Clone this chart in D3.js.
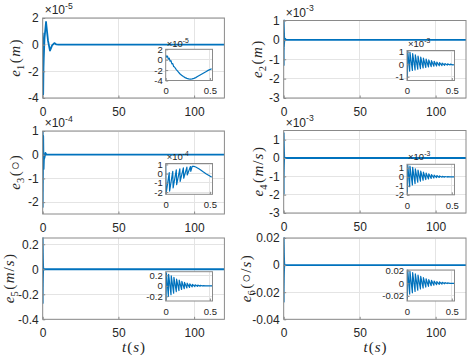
<!DOCTYPE html>
<html><head><meta charset="utf-8">
<script src="https://cdn.jsdelivr.net/npm/d3@7"></script>
<style>body{margin:0;background:#fff}svg{display:block}</style>
</head><body>
<svg id="c" width="474" height="355"></svg>
<script>
// ---------------- DATA ----------------
const timeTicks = [0, 50, 100];
const insetTimeTicks = [0, 0.5];

// e1 (x1e-5)
const e1Ticks = [-4, -2, 0, 2];
const e1InsetTicks = [-4, -2, 0, 2];
const e1Early = [[0,0.9],[0.01,0.5],[0.02,0.7],[0.03,0.1],[0.04,0.3],[0.05,-0.3],[0.06,-0.2],[0.07,-0.8],[0.08,-0.75],[0.09,-1.3],[0.1,-1.4],[0.12,-1.9],[0.14,-2.3],[0.16,-2.7],[0.18,-3.0],[0.2,-3.25],[0.22,-3.45],[0.24,-3.6],[0.26,-3.7],[0.28,-3.75],[0.3,-3.7],[0.32,-3.6],[0.34,-3.45],[0.36,-3.25],[0.38,-3.05],[0.4,-2.85],[0.42,-2.65],[0.44,-2.45],[0.46,-2.25],[0.48,-2.05],[0.5,-1.9],[0.52,-1.75]];
const e1Late = [[0.7,-1.0],[1.2,0.5],[2.2,1.7],[3.5,0.3],[4.8,-0.45],[6.2,-0.05],[7.7,0.12],[9,0.02],[10.5,0],[120,0]];

// e2 (x1e-3)
const e2Ticks = [-3, -2, -1, 0, 1];
const e2InsetTicks = [-1, 0, 1];
const e2Early = [[0,0],[0.004,-1.3],[0.008,1.05],[0.03,-0.55],[0.033,0.95],[0.06,-0.5],[0.063,0.85],[0.09,-0.45],[0.093,0.75],[0.12,-0.4],[0.123,0.66],[0.15,-0.35],[0.153,0.57],[0.18,-0.3],[0.183,0.49],[0.21,-0.26],[0.213,0.42],[0.24,-0.22],[0.243,0.35],[0.27,-0.19],[0.273,0.29],[0.3,-0.16],[0.303,0.23],[0.33,-0.14],[0.333,0.18],[0.36,-0.12],[0.363,0.13],[0.39,-0.1],[0.393,0.09],[0.42,-0.08],[0.423,0.06],[0.45,-0.07],[0.453,0.03],[0.48,-0.06],[0.483,0.01],[0.51,-0.05],[0.53,-0.04]];
const e2Late = [[0.6,-0.02],[1,0.05],[1.5,0],[120,0]];

// e3 (x1e-4)
const e3Ticks = [-2, -1, 0, 1];
const e3InsetTicks = [-2, -1, 0, 1];
const e3Early = [[0,1.0],[0.004,-2.2],[0.04,0.1],[0.044,-1.9],[0.08,0.25],[0.084,-1.55],[0.12,0.4],[0.124,-1.2],[0.16,0.52],[0.164,-0.85],[0.2,0.62],[0.204,-0.5],[0.24,0.7],[0.244,-0.15],[0.28,0.77],[0.284,0.25],[0.3,0.8],[0.32,0.78],[0.34,0.72],[0.36,0.62],[0.38,0.5],[0.4,0.37],[0.42,0.23],[0.44,0.1],[0.46,-0.03],[0.48,-0.15],[0.5,-0.27],[0.52,-0.38]];
const e3Late = [[0.6,-0.6],[0.8,-0.2],[1.2,-0.12],[1.8,0.08],[2.5,0],[120,0]];

// e4 (x1e-3)
const e4Ticks = [-3, -2, -1, 0, 1];
const e4InsetTicks = [-2, -1, 0, 1];
const e4Early = [[0,0],[0.004,-1.95],[0.008,1.35],[0.03,-1.1],[0.033,1.2],[0.06,-0.9],[0.063,1.05],[0.09,-0.75],[0.093,0.9],[0.12,-0.6],[0.123,0.76],[0.15,-0.48],[0.153,0.63],[0.18,-0.38],[0.183,0.52],[0.21,-0.3],[0.213,0.42],[0.24,-0.23],[0.243,0.33],[0.27,-0.17],[0.273,0.26],[0.3,-0.13],[0.303,0.2],[0.33,-0.09],[0.333,0.14],[0.36,-0.06],[0.363,0.1],[0.39,-0.04],[0.393,0.06],[0.42,-0.03],[0.423,0.04],[0.45,-0.02],[0.453,0.02],[0.48,-0.01],[0.483,0.01],[0.51,0],[0.53,0]];
const e4Late = [[0.6,0],[120,0]];

// e5
const e5Ticks = [-0.4, -0.2, 0, 0.2];
const e5InsetTicks = [-0.2, 0, 0.2];
const e5Early = [[0,0],[0.004,-0.27],[0.008,0.25],[0.03,-0.2],[0.033,0.22],[0.06,-0.17],[0.063,0.19],[0.09,-0.14],[0.093,0.16],[0.12,-0.11],[0.123,0.13],[0.15,-0.09],[0.153,0.11],[0.18,-0.07],[0.183,0.085],[0.21,-0.055],[0.213,0.065],[0.24,-0.04],[0.243,0.05],[0.27,-0.03],[0.273,0.038],[0.3,-0.02],[0.303,0.028],[0.33,-0.014],[0.333,0.02],[0.36,-0.01],[0.363,0.014],[0.39,-0.006],[0.393,0.009],[0.42,-0.004],[0.423,0.005],[0.45,0],[0.48,0],[0.53,0]];
const e5Late = [[0.6,0],[120,0]];

// e6
const e6Ticks = [-0.04, -0.02, 0, 0.02];
const e6InsetTicks = [-0.02, 0, 0.02];
const e6Early = [[0,0],[0.004,-0.027],[0.008,0.021],[0.03,-0.017],[0.033,0.019],[0.06,-0.015],[0.063,0.017],[0.09,-0.013],[0.093,0.015],[0.12,-0.011],[0.123,0.013],[0.15,-0.009],[0.153,0.011],[0.18,-0.0075],[0.183,0.009],[0.21,-0.006],[0.213,0.0072],[0.24,-0.0048],[0.243,0.0058],[0.27,-0.0038],[0.273,0.0046],[0.3,-0.003],[0.303,0.0036],[0.33,-0.0023],[0.333,0.0028],[0.36,-0.0017],[0.363,0.0021],[0.39,-0.0012],[0.393,0.0015],[0.42,-0.0008],[0.423,0.001],[0.45,-0.0004],[0.453,0.0005],[0.48,0],[0.53,0]];
const e6Late = [[0.6,0],[120,0]];

// ---------------- DRAWING ----------------
const svg = d3.select('#c');
const BLUE = '#0072BD';
const SANS = "'Liberation Sans', Arial, Helvetica, sans-serif";
const SERIF = "'Liberation Serif', 'Times New Roman', serif";
const TXT = '#262626';
const BOX = '#8a8a8a';
const GRID = '#e4e4e4';
let clipId = 0;

function fmt(v) { return (v < 0 ? '-' : '') + String(Math.abs(v)); }

function drawAxes(L, o) {
  const x = d3.scaleLinear().domain(o.xDomain).range([L.x0, L.x1]);
  const y = d3.scaleLinear().domain(o.yDomain).range([L.y1, L.y0]);
  const g = svg.append('g');
  g.append('rect').attr('x', L.x0).attr('y', L.y0).attr('width', L.x1 - L.x0).attr('height', L.y1 - L.y0).attr('fill', '#fff');
  g.append('g').selectAll('line').data(o.xTicks).join('line')
    .attr('x1', d => x(d)).attr('x2', d => x(d)).attr('y1', L.y0).attr('y2', L.y1)
    .attr('stroke', GRID).attr('stroke-width', 1).attr('shape-rendering', 'crispEdges');
  g.append('g').selectAll('line').data(o.yTicks).join('line')
    .attr('y1', d => y(d)).attr('y2', d => y(d)).attr('x1', L.x0).attr('x2', L.x1)
    .attr('stroke', GRID).attr('stroke-width', 1).attr('shape-rendering', 'crispEdges');
  const id = 'clip' + (clipId++);
  svg.append('clipPath').attr('id', id).append('rect')
    .attr('x', L.x0).attr('y', L.y0 - 1).attr('width', L.x1 - L.x0).attr('height', L.y1 - L.y0 + 2);
  g.append('path').datum(o.data).attr('clip-path', `url(#${id})`)
    .attr('d', d3.line().x(d => x(d[0])).y(d => y(d[1])))
    .attr('fill', 'none').attr('stroke', BLUE).attr('stroke-width', o.lw).attr('stroke-linejoin', 'round');
  g.append('rect').attr('x', L.x0).attr('y', L.y0).attr('width', L.x1 - L.x0).attr('height', L.y1 - L.y0)
    .attr('fill', 'none').attr('stroke', BOX).attr('stroke-width', 1);
  const ax = g.append('g').attr('transform', `translate(0,${L.y1})`)
    .call(d3.axisBottom(x).tickValues(o.xTicks).tickSize(-2.5).tickPadding(o.xPad).tickFormat(fmt));
  const ay = g.append('g').attr('transform', `translate(${L.x0},0)`)
    .call(d3.axisLeft(y).tickValues(o.yTicks).tickSize(-2.5).tickPadding(o.yPad).tickFormat(fmt));
  [ax, ay].forEach(a => {
    a.select('.domain').remove();
    a.selectAll('line').attr('stroke', BOX);
    a.selectAll('text').attr('font-family', SANS).attr('font-size', o.fs).attr('fill', TXT);
  });
  return {x, y};
}

function addExp(x, y, exp, fs) {
  const t = svg.append('text').attr('x', x).attr('y', y).attr('font-family', SANS)
    .attr('font-size', fs).attr('fill', TXT);
  t.append('tspan').text('\u00d710');
  t.append('tspan').attr('dy', -fs * 0.42).attr('font-size', fs * 0.72).text(exp);
}

function addMathLabel(x, y, parts, rotate) {
  const t = svg.append('text').attr('font-family', SERIF).attr('font-size', 15).attr('fill', TXT)
    .attr('text-anchor', 'middle')
    .attr('transform', `translate(${x},${y})` + (rotate ? ' rotate(-90)' : ''));
  let shift = 0;
  parts.forEach(p => {
    const s = t.append('tspan').text(p[0]);
    if (p[1] === 'i') s.attr('font-style', 'italic');
    if (p[1] === 'sub') {
      s.attr('font-size', 10.5).attr('dy', 4); shift = 4;
    } else if (shift) { s.attr('dy', -shift); shift = 0; }
    if (p[2]) s.attr('dx', p[2]);
  });
}

const panels = [
  {L:{x0:42.7,x1:224.4,y0:18,y1:98}, yDomain:[-4,2], yTicks:e1Ticks, early:e1Early, late:e1Late, exp:'-5',
   lab:[['e','i'],['1','sub'],['(','n',1.5],['m','i',1.5],[')','n',1.5]], labX:19.5,
   I:{x0:165.7,x1:212.5,y0:49.3,y1:80.5}, iDomain:[-4,2], iTicks:e1InsetTicks, iExpY:47},
  {L:{x0:283.7,x1:466,y0:20.5,y1:98}, yDomain:[-3,1], yTicks:e2Ticks, early:e2Early, late:e2Late, exp:'-3',
   lab:[['e','i'],['2','sub'],['(','n',1.5],['m','i',1.5],[')','n',1.5]], labX:261.5,
   I:{x0:407,x1:454.5,y0:50.5,y1:80.5}, iDomain:[-1.3,1.1], iTicks:e2InsetTicks, iExpY:47},
  {L:{x0:42.7,x1:224.4,y0:131,y1:214}, yDomain:[-2.5,1], yTicks:e3Ticks, early:e3Early, late:e3Late, exp:'-4',
   lab:[['e','i'],['3','sub'],['(','n',1.5],['\u25cb','n',1],[')','n',1]], labX:19.5,
   I:{x0:165.7,x1:212.5,y0:163.5,y1:194.3}, iDomain:[-2.25,1.1], iTicks:e3InsetTicks, iExpY:160},
  {L:{x0:283.7,x1:466,y0:130.5,y1:213}, yDomain:[-3,1.5], yTicks:e4Ticks, early:e4Early, late:e4Late, exp:'-3',
   lab:[['e','i'],['4','sub'],['(','n',1.5],['m','i',1.5],['/','n',1],['s','i',1],[')','n',1.5]], labX:262.5,
   I:{x0:407,x1:454.5,y0:164.3,y1:194.8}, iDomain:[-2,1.4], iTicks:e4InsetTicks, iExpY:160},
  {L:{x0:42.7,x1:224.4,y0:238,y1:319.3}, yDomain:[-0.4,0.25], yTicks:e5Ticks, early:e5Early, late:e5Late, exp:null,
   lab:[['e','i'],['5','sub'],['(','n',1.5],['m','i',1.5],['/','n',1],['s','i',1],[')','n',1.5]], labX:13.5,
   I:{x0:165.7,x1:212.5,y0:271.7,y1:301}, iDomain:[-0.29,0.27], iTicks:e5InsetTicks, iExpY:null},
  {L:{x0:283.7,x1:466,y0:238,y1:319.3}, yDomain:[-0.04,0.02], yTicks:e6Ticks, early:e6Early, late:e6Late, exp:null,
   lab:[['e','i'],['6','sub'],['(','n',1.5],['\u25cb','n',1],['/','n',1],['s','i',1],[')','n',1.5]], labX:250.5,
   I:{x0:407,x1:454.5,y0:270,y1:301}, iDomain:[-0.028,0.021], iTicks:e6InsetTicks, iExpY:null}
];

panels.forEach(p => {
  drawAxes(p.L, {xDomain:[0,120], yDomain:p.yDomain, xTicks:timeTicks, yTicks:p.yTicks,
    data:p.early.concat(p.late), lw:1.8, fs:12, xPad:9, yPad:4});
  if (p.exp) addExp(p.L.x0 + 2, p.L.y0 - 4, p.exp, 12);
  addMathLabel(p.labX, (p.L.y0 + p.L.y1) / 2, p.lab, true);
  drawAxes(p.I, {xDomain:[0,0.53], yDomain:p.iDomain, xTicks:insetTimeTicks, yTicks:p.iTicks,
    data:p.early, lw:1.2, fs:9.5, xPad:7, yPad:3});
  if (p.exp) addExp(p.I.x0 + 1, p.iExpY, p.exp, 9.5);
});

addMathLabel(133.5, 352, [['t','i'],['(','n',1],['s','i',1],[')','n',1]], false);
addMathLabel(375, 352, [['t','i'],['(','n',1],['s','i',1],[')','n',1]], false);
</script>
</body></html>
